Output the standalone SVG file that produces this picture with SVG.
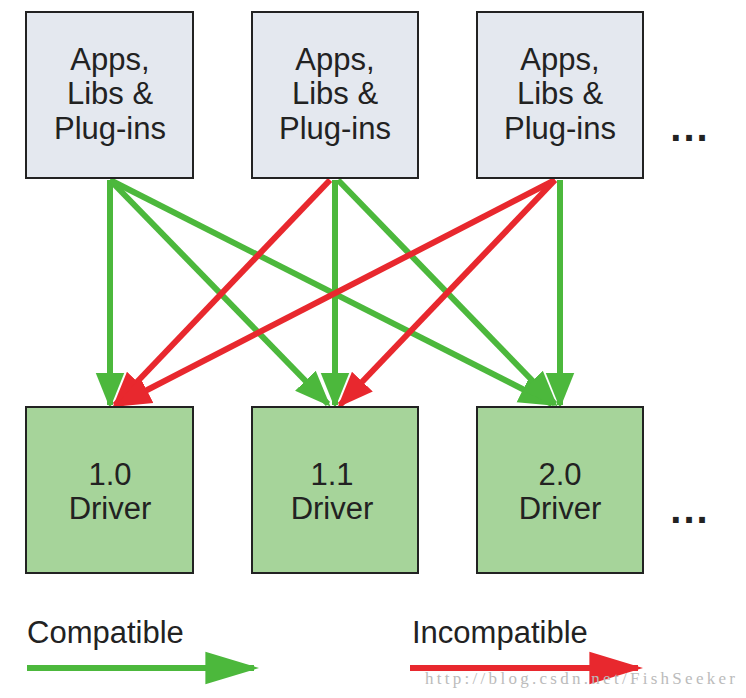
<svg xmlns="http://www.w3.org/2000/svg" width="746" height="698" viewBox="0 0 746 698">
<style>
.top{fill:#e4e8ef;stroke:#222;stroke-width:2}
.bot{fill:#a6d49a;stroke:#222;stroke-width:2}
text{font-family:"Liberation Sans",Arial,sans-serif;font-size:31px;fill:#222;text-anchor:middle}
.dots{font-weight:bold;font-size:40px;letter-spacing:2px}
.g{stroke:#4cb83c;stroke-width:6;fill:none}
.r{stroke:#e8282e;stroke-width:6;fill:none}
</style>
<defs>
<marker id="ag" viewBox="0 0 10 10" refX="9" refY="5" markerWidth="6" markerHeight="6" markerUnits="strokeWidth" orient="auto"><path d="M0,1 L10,5 L0,9 Z" fill="#4cb83c"/></marker>
<marker id="ar" viewBox="0 0 10 10" refX="9" refY="5" markerWidth="6" markerHeight="6" markerUnits="strokeWidth" orient="auto"><path d="M0,1 L10,5 L0,9 Z" fill="#e8282e"/></marker>
<marker id="lg" viewBox="0 0 10 10" refX="9" refY="5" markerWidth="9" markerHeight="9" markerUnits="strokeWidth" orient="auto"><path d="M0,2 L10,5 L0,8 Z" fill="#4cb83c"/></marker>
<marker id="lr" viewBox="0 0 10 10" refX="9" refY="5" markerWidth="9" markerHeight="9" markerUnits="strokeWidth" orient="auto"><path d="M0,2 L10,5 L0,8 Z" fill="#e8282e"/></marker>
</defs>
<rect width="746" height="698" fill="#fff"/>
<g id="connectors">
<line class="g" x1="110" y1="180" x2="110" y2="405" marker-end="url(#ag)"/>
<line class="g" x1="110" y1="180" x2="328" y2="404" marker-end="url(#ag)"/>
<line class="g" x1="110" y1="180" x2="552" y2="404" marker-end="url(#ag)"/>
<line class="r" x1="330" y1="180" x2="115" y2="405" marker-end="url(#ar)"/>
<line class="g" x1="335" y1="180" x2="335" y2="405" marker-end="url(#ag)"/>
<line class="g" x1="338" y1="180" x2="555" y2="404" marker-end="url(#ag)"/>
<line class="r" x1="555" y1="180" x2="118" y2="405" marker-end="url(#ar)"/>
<line class="r" x1="555" y1="180" x2="340" y2="405" marker-end="url(#ar)"/>
<line class="g" x1="560" y1="180" x2="560" y2="405" marker-end="url(#ag)"/>
</g>
<g id="top1"><rect class="top" x="26" y="12" width="167" height="166"/><text x="110" y="70">Apps,</text><text x="110" y="104">Libs &amp;</text><text x="110" y="139">Plug-ins</text></g>
<g id="top2"><rect class="top" x="252" y="12" width="166" height="166"/><text x="335" y="70">Apps,</text><text x="335" y="104">Libs &amp;</text><text x="335" y="139">Plug-ins</text></g>
<g id="top3"><rect class="top" x="477" y="12" width="166" height="166"/><text x="560" y="70">Apps,</text><text x="560" y="104">Libs &amp;</text><text x="560" y="139">Plug-ins</text></g>
<text class="dots" x="690" y="141">...</text>
<g id="bot1"><rect class="bot" x="26" y="407" width="167" height="166"/><text x="110" y="485">1.0</text><text x="110" y="519">Driver</text></g>
<g id="bot2"><rect class="bot" x="252" y="407" width="166" height="166"/><text x="332" y="485">1.1</text><text x="332" y="519">Driver</text></g>
<g id="bot3"><rect class="bot" x="477" y="407" width="166" height="166"/><text x="560" y="485">2.0</text><text x="560" y="519">Driver</text></g>
<text class="dots" x="690" y="523">...</text>
<g id="legend">
<text x="27" y="643" style="text-anchor:start">Compatible</text>
<line class="g" x1="27" y1="668" x2="254" y2="668" marker-end="url(#lg)"/>
<text x="412" y="643" style="text-anchor:start">Incompatible</text>
<line class="r" x1="410" y1="668" x2="638" y2="668" marker-end="url(#lr)"/>
<text x="425" y="684" textLength="310" style="text-anchor:start;font-size:17px;fill:#bbb;font-family:'Liberation Serif',serif">http://blog.csdn.net/FishSeeker</text>
</g>
</svg>
